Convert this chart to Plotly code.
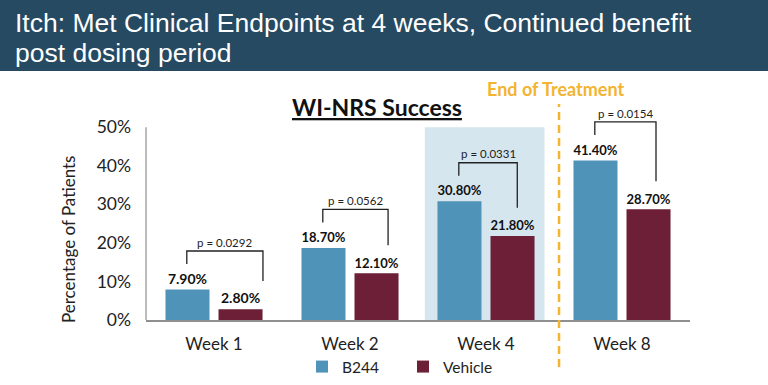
import plotly.graph_objects as go

# ---- data ----
weeks = ["Week 1", "Week 2", "Week 4", "Week 8"]
b244 = [7.9, 18.7, 30.8, 41.4]
vehicle = [2.8, 12.1, 21.8, 28.7]
p_values = ["p = 0.0292", "p = 0.0562", "p = 0.0331", "p = 0.0154"]
y_ticks = [0, 10, 20, 30, 40, 50]
y_ticktext = ["0%", "10%", "20%", "30%", "40%", "50%"]

# ---- style ----
W, H = 768, 385
ML, MR, MT, MB = 146, 78, 108, 65
PW, PH = W - ML - MR, H - MT - MB
C_B244 = "#5093B9"
C_VEH = "#6C1F36"
C_HL = "#D6E6EF"
C_ORANGE = "#F2B431"
C_HDR = "#254A62"
FONT = "Lato"
HDR_FONT = "Liberation Sans, Arial, sans-serif"

def px_x(px):
    return (px - ML) / PW

def px_y(py):
    return (H - MB - py) / PH

fig = go.Figure()
fig.add_trace(go.Bar(
    x=weeks, y=b244, name="B244", marker=dict(color=C_B244, line=dict(width=0)),
    texttemplate="%{y:.2f}%", textposition="outside", cliponaxis=False,
    textfont=dict(family=FONT, size=14, color="#111", weight="bold"),
))
fig.add_trace(go.Bar(
    x=weeks, y=vehicle, name="Vehicle", marker=dict(color=C_VEH, line=dict(width=0)),
    texttemplate="%{y:.2f}%", textposition="outside", cliponaxis=False,
    textfont=dict(family=FONT, size=14, color="#111", weight="bold"),
))

shapes = []
annotations = []

# header band
shapes.append(dict(type="rect", xref="paper", yref="paper",
                   x0=px_x(0), x1=px_x(W), y0=px_y(71), y1=px_y(0),
                   fillcolor=C_HDR, line=dict(width=0), layer="below"))
annotations.append(dict(xref="paper", yref="paper", x=px_x(13), y=px_y(23),
                        xanchor="left", yanchor="middle", showarrow=False,
                        text="Itch: Met Clinical Endpoints at 4 weeks, Continued benefit",
                        font=dict(family=HDR_FONT, size=26.5, color="white")))
annotations.append(dict(xref="paper", yref="paper", x=px_x(13), y=px_y(53),
                        xanchor="left", yanchor="middle", showarrow=False,
                        text="post dosing period",
                        font=dict(family=HDR_FONT, size=26.5, color="white")))

# highlight week 4
shapes.append(dict(type="rect", xref="x", yref="y", x0=1.55, x1=2.43, y0=0, y1=50,
                   fillcolor=C_HL, line=dict(width=0), layer="below"))

# y axis line (0-50 only)
shapes.append(dict(type="line", xref="paper", yref="y", x0=0, x1=0, y0=0, y1=50,
                   line=dict(color="#A6A6A6", width=1.5)))

# end of treatment line
shapes.append(dict(type="line", xref="x", yref="paper", x0=2.537, x1=2.537,
                   y0=px_y(367), y1=px_y(104),
                   line=dict(color=C_ORANGE, width=2.5, dash="8px,5px")))
annotations.append(dict(xref="paper", yref="paper", x=px_x(555), y=px_y(89),
                        xanchor="center", yanchor="middle", showarrow=False,
                        text="<b>End of Treatment</b>",
                        font=dict(family=FONT, size=18, color=C_ORANGE)))

# title
annotations.append(dict(xref="paper", yref="paper", x=px_x(377), y=px_y(107),
                        xanchor="center", yanchor="middle", showarrow=False,
                        text="<b><u>WI-NRS Success</u></b>",
                        font=dict(family=FONT, size=23, color="#111")))

# y axis title
annotations.append(dict(xref="paper", yref="paper", x=px_x(68), y=px_y(240),
                        xanchor="center", yanchor="middle", showarrow=False,
                        textangle=-90, text="Percentage of Patients",
                        font=dict(family=FONT, size=17, color="#222")))

# p-value brackets
right_off = [0.36, 0.28, 0.23, 0.25]
for i, (b, v, p) in enumerate(zip(b244, vehicle, p_values)):
    xl = i - 0.2
    xr = i + right_off[i]
    yl = b + 6.6
    yr = v + 7.3
    yt = yl + 3.4
    shapes.append(dict(type="path", xref="x", yref="y",
                       path=f"M {xl},{yl} L {xl},{yt} L {xr},{yt} L {xr},{yr}",
                       line=dict(color="#222", width=1.3)))
    annotations.append(dict(xref="x", yref="y", x=(xl + xr) / 2, y=yt + 2.3,
                            xanchor="center", yanchor="middle", showarrow=False,
                            text=p, font=dict(family=FONT, size=11.5, color="#222")))

fig.update_layout(
    width=W, height=H,
    margin=dict(l=ML, r=MR, t=MT, b=MB, pad=0, autoexpand=False),
    paper_bgcolor="white", plot_bgcolor="rgba(0,0,0,0)",
    barmode="group", bargap=0.22, bargroupgap=0.17,
    shapes=shapes, annotations=annotations,
    showlegend=True,
    legend=dict(orientation="h", x=px_x(302), y=px_y(367), xanchor="left", yanchor="middle",
                font=dict(family=FONT, size=15.5, color="#222"),
                entrywidth=56, entrywidthmode="pixels",
                bgcolor="rgba(0,0,0,0)", itemclick=False),
    xaxis=dict(range=[-0.5, 3.5], showline=True, linecolor="#8F8F8F", linewidth=1.5,
               ticks="", showgrid=False, zeroline=False, ticklabelstandoff=8,
               tickfont=dict(family=FONT, size=17, color="#222")),
    yaxis=dict(range=[0, 55], tickvals=y_ticks, ticktext=y_ticktext, showline=False,
               ticks="", showgrid=False, zeroline=False, ticklabelstandoff=14,
               tickfont=dict(family=FONT, size=17.5, color="#222")),
    font=dict(family=FONT),
)

fig.write_html("out.html", config={"displayModeBar": False},
               post_script="document.body.style.margin='0';document.body.style.padding='0';")
